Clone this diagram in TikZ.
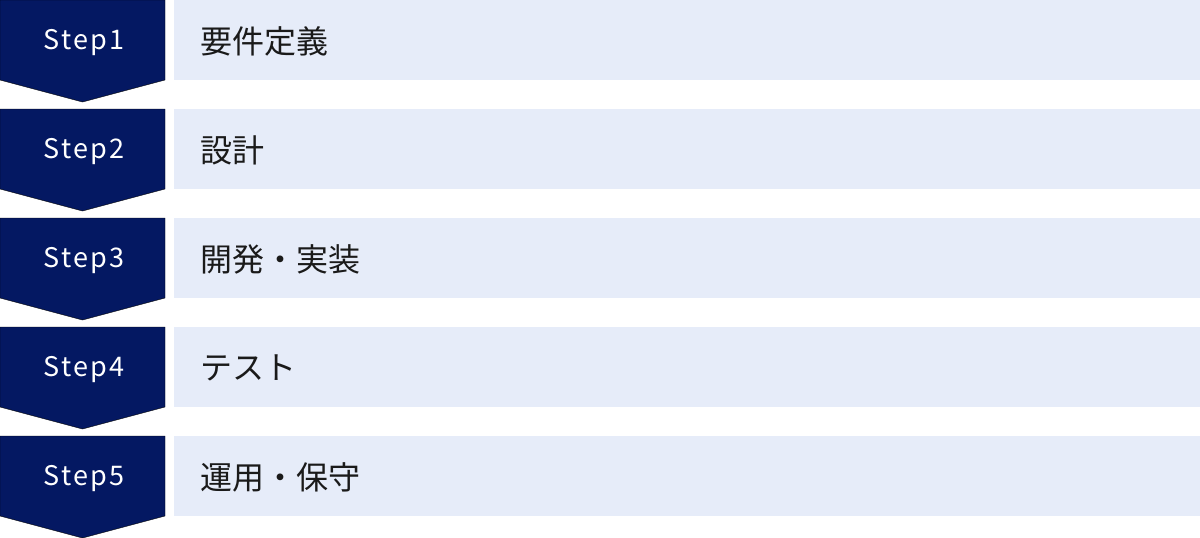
\documentclass[tikz,border=0pt]{standalone}
\usepackage{fontspec}
\setmainfont{Noto Sans CJK JP}
\newfontfamily\stepfont[LetterSpace=9]{Noto Sans CJK JP}
\definecolor{navy}{HTML}{041862}
\definecolor{barblue}{HTML}{E6ECF9}
\definecolor{ink}{HTML}{1A1A1A}
\begin{document}
\begin{tikzpicture}[
    x=1pt, y=1pt,
    % Style for the navy step tags
    tag/.style={fill=navy},
    tag text/.style={text=white, font=\stepfont\fontsize{27}{27}\selectfont, inner sep=0pt},
    % Style for the light blue bars
    bar/.style={rectangle, fill=barblue, minimum width=1026pt, minimum height=80pt,
        anchor=north west, inner sep=0pt},
    bar text/.style={text=ink, font=\fontsize{32}{32}\selectfont, anchor=west, inner sep=0pt}
]
    \useasboundingbox (0,0) rectangle (1200,-538);

    % --- 1. Define Coordinates ---
    \coordinate (r1) at (0, 0);
    \coordinate (r2) at (0, -109);
    \coordinate (r3) at (0, -218);
    \coordinate (r4) at (0, -327);
    \coordinate (r5) at (0, -436);

    % --- 2. Draw Step Tags (Pentagons) ---
    \tikzstyle{tagpath}=[tag]
    \draw[tagpath] (r1) -- ++(165,0) -- ++(0,-80) -- ++(-82.5,-22) -- ++(-82.5,22) -- cycle;
    \draw[tagpath] (r2) -- ++(165,0) -- ++(0,-80) -- ++(-82.5,-22) -- ++(-82.5,22) -- cycle;
    \draw[tagpath] (r3) -- ++(165,0) -- ++(0,-80) -- ++(-82.5,-22) -- ++(-82.5,22) -- cycle;
    \draw[tagpath] (r4) -- ++(165,0) -- ++(0,-80) -- ++(-82.5,-22) -- ++(-82.5,22) -- cycle;
    \draw[tagpath] (r5) -- ++(165,0) -- ++(0,-80) -- ++(-82.5,-22) -- ++(-82.5,22) -- cycle;

    \node[tag text] (step1) at ([shift={(84,-43)}]r1) {Step1};
    \node[tag text] (step2) at ([shift={(84,-43)}]r2) {Step2};
    \node[tag text] (step3) at ([shift={(84,-43)}]r3) {Step3};
    \node[tag text] (step4) at ([shift={(84,-43)}]r4) {Step4};
    \node[tag text] (step5) at ([shift={(84,-43)}]r5) {Step5};

    % --- 3. Draw Bars ---
    \node[bar] (bar1) at ([xshift=174pt]r1) {};
    \node[bar] (bar2) at ([xshift=174pt]r2) {};
    \node[bar] (bar3) at ([xshift=174pt]r3) {};
    \node[bar] (bar4) at ([xshift=174pt]r4) {};
    \node[bar] (bar5) at ([xshift=174pt]r5) {};

    % --- 4. Bar Labels ---
    \node[bar text] (task1) at ([xshift=26pt, yshift=-1pt]bar1.west) {要件定義};
    \node[bar text] (task2) at ([xshift=26pt, yshift=-1pt]bar2.west) {設計};
    \node[bar text] (task3) at ([xshift=26pt, yshift=-1pt]bar3.west) {開発・実装};
    \node[bar text] (task4) at ([xshift=26pt, yshift=-1pt]bar4.west) {テスト};
    \node[bar text] (task5) at ([xshift=26pt, yshift=-1pt]bar5.west) {運用・保守};

\end{tikzpicture}
\end{document}
